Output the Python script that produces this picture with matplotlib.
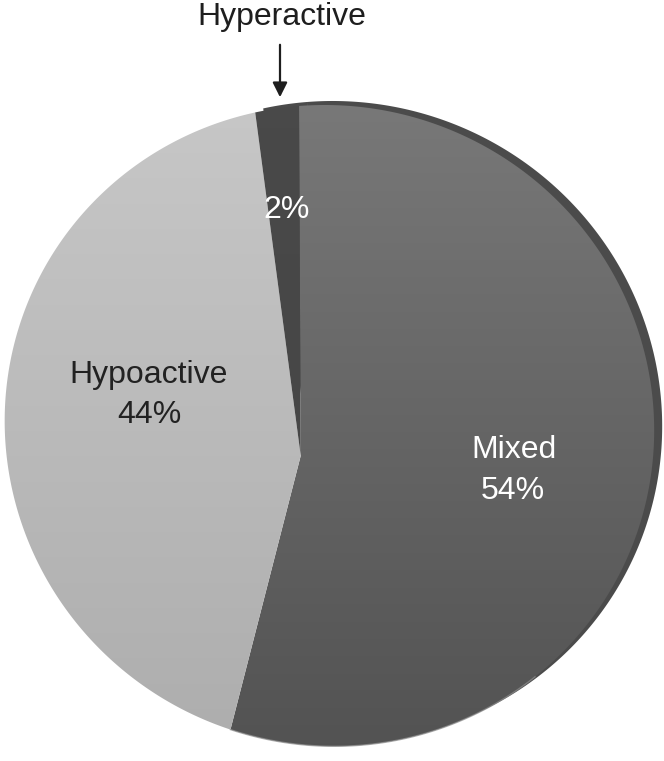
import matplotlib
matplotlib.use('Agg')
import matplotlib.pyplot as plt
import numpy as np
from matplotlib.patches import Polygon
from matplotlib.colors import LinearSegmentedColormap

plt.rcParams['font.family'] = ['Liberation Sans', 'DejaVu Sans']

# data (clockwise from 12 o'clock)
subtypes = ['Mixed', 'Hypoactive', 'Hyperactive']
shares = [54, 44, 2]
face_top = ['#7e7e7e', '#cbcbcb', '#4a4a4a']
face_bot = ['#525252', '#adadad', '#444444']

fig = plt.figure(figsize=(6.64, 7.61), dpi=100)
ax = fig.add_axes([0, 0, 1, 1])

# tilted look: map the unit pie onto the page with a perspective (homography)
def homography(src, dst, wts):
    A, b = [], []
    for (x, y), (u, v), k in zip(src, dst, wts):
        A.append(np.array([x, y, 1, 0, 0, 0, -u * x, -u * y]) * k); b.append(u * k)
        A.append(np.array([0, 0, 0, x, y, 1, -v * x, -v * y]) * k); b.append(v * k)
    h = np.linalg.lstsq(np.array(A, float), np.array(b, float), rcond=None)[0]
    return np.append(h, 1).reshape(3, 3)

end = np.radians(90 - 360 * shares[0] / 100)
H = homography([(0, 0), (0, 1), (np.cos(end), np.sin(end)), (-1, 0), (1, 0), (0, -1)],
               [(300, 457), (300, 106), (232, 727), (4, 432), (652, 437), (309, 755)],
               [6, 4, 2, 1, 1, 1])

def warp(pts, shift=(0, 0)):
    p = np.c_[pts, np.ones(len(pts))] @ H.T
    return p[:, :2] / p[:, 2:] + np.array(shift)

wedges, _ = ax.pie(shares, startangle=90, counterclock=False, radius=1, center=(0, 0))
polys = []
for w in wedges:
    t = np.radians(np.linspace(w.theta1, w.theta2, 300))
    pts = np.vstack([[w.center], np.c_[np.cos(t), np.sin(t)] * w.r + w.center])
    polys.append(pts)
    w.remove()

ax.set_aspect('auto')
ax.axis('off')

# dark rim (disk thickness) behind mixed + hyperactive
for i in (0, 2):
    ax.add_patch(Polygon(warp(polys[i], (8, -4)), closed=True, fc='#4b4b4b', ec='none', zorder=1))

grad = np.linspace(0, 1, 256).reshape(-1, 1)
for i, pts in enumerate(polys):
    patch = Polygon(warp(pts), closed=True, fc='none', ec='none', zorder=2)
    ax.add_patch(patch)
    cmap = LinearSegmentedColormap.from_list('g%d' % i, [face_top[i], face_bot[i]])
    im = ax.imshow(grad, cmap=cmap, extent=(0, 664, 761, 0), aspect='auto', zorder=2)
    im.set_clip_path(patch)

# thin highlight just inside the rim
arc = warp(polys[0][1:])
ax.plot(arc[:95, 0], arc[:95, 1], color='#8e8e8e', lw=1, alpha=0.7, zorder=3)

ax.set_xlim(0, 664)
ax.set_ylim(761, 0)

fs = 23
ax.text(514, 458, subtypes[0], color='white', fontsize=fs, ha='center', va='baseline', zorder=5)
ax.text(513, 499, '%d%%' % shares[0], color='white', fontsize=fs, ha='center', va='baseline', zorder=5)
ax.text(149, 383, subtypes[1], color='#222222', fontsize=fs, ha='center', va='baseline', zorder=5)
ax.text(149, 423, '%d%%' % shares[1], color='#222222', fontsize=fs, ha='center', va='baseline', zorder=5)
ax.text(287, 218, '%d%%' % shares[2], color='white', fontsize=fs, ha='center', va='baseline', zorder=5)
ax.text(282, 25, subtypes[2], color='#1e1e1e', fontsize=fs, ha='center', va='baseline', zorder=5)
ax.annotate('', xy=(280, 100), xytext=(280, 42),
            arrowprops=dict(arrowstyle='-|>', color='#1e1e1e', lw=1.6, mutation_scale=22), zorder=5)

fig.savefig('out.png', dpi=100)
